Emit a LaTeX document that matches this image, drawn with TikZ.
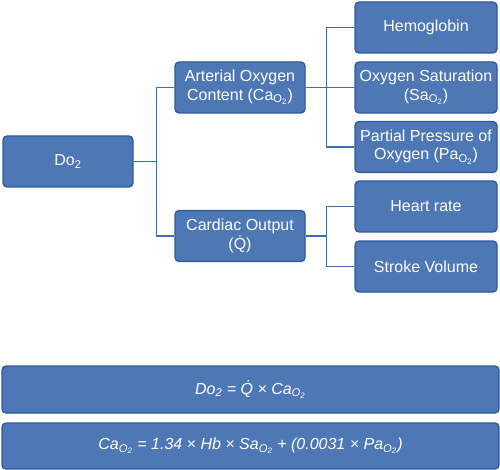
\documentclass[tikz,border=0pt]{standalone}
\usepackage{fontspec}
\setmainfont{Liberation Sans}
\definecolor{boxfill}{HTML}{4E77B5}
\definecolor{boxline}{HTML}{2C5A9E}
\definecolor{linkcol}{HTML}{3F6CB0}
\begin{document}
\begin{tikzpicture}[x=1pt,y=-1pt,
    box/.style={draw=boxline,fill=boxfill,line width=1.3pt,rounded corners=4pt,
      text=white,align=center,inner sep=0pt,minimum height=51pt,
      font=\fontsize{16}{18.5}\selectfont},
    link/.style={draw=linkcol,line width=1.3pt}]

	\useasboundingbox (0,0) rectangle (500,470);

	\node[box,minimum width=130pt] (do) at (68,161.5) {Do\textsubscript{2}};

	\node[box,minimum width=130pt] (art) at (240,87.5)
        {Arterial Oxygen\\Content (Ca\textsubscript{O\textsubscript{2}})};
	\node[box,minimum width=130pt] (card) at (240,236)
        {Cardiac Output\\(\.{Q})};

	\node[box,minimum width=142pt] (hemo) at (426,27.5) {Hemoglobin};
	\node[box,minimum width=142pt] (sat) at (426,87.5)
        {Oxygen Saturation\\(Sa\textsubscript{O\textsubscript{2}})};
	\node[box,minimum width=142pt] (pp) at (426,147)
        {Partial Pressure of\\Oxygen (Pa\textsubscript{O\textsubscript{2}})};
	\node[box,minimum width=142pt] (hr) at (426,206.5) {Heart rate};
	\node[box,minimum width=142pt] (sv) at (426,266.5) {Stroke Volume};

	\draw[link] (do.east) -- ++(23,0) |- (art.west);
        \draw[link] (do.east) -- ++(23,0) |- (card.west);
	\draw[link] (art.east) -- (sat.west);
        \draw[link] (art.east) -- ++(21,0) |- (hemo.west);
        \draw[link] (art.east) -- ++(21,0) |- (pp.west);
	\draw[link] (card.east) -- ++(21,0) |- (hr.west);
        \draw[link] (card.east) -- ++(21,0) |- (sv.west);

	\node[box,minimum width=497pt,minimum height=47pt,font=\fontsize{16}{18.5}\selectfont\itshape]
        (eqdo) at (250.5,389.5)
        {Do\textsubscript{2} = \.{Q} × Ca\textsubscript{O\textsubscript{2}}};
	\node[box,minimum width=497pt,minimum height=46pt,font=\fontsize{16}{18.5}\selectfont\itshape]
        (eqca) at (250.5,446)
        {Ca\textsubscript{O\textsubscript{2}} = 1.34 × Hb × Sa\textsubscript{O\textsubscript{2}}
        + (0.0031 × Pa\textsubscript{O\textsubscript{2}})};
      \end{tikzpicture}
\end{document}
